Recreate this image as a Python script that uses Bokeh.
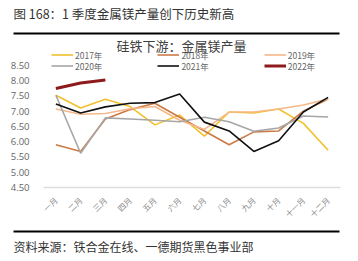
import math
from bokeh.plotting import figure
from bokeh.layouts import column
from bokeh.models import Range1d, Label, Legend, LegendItem, FixedTicker, CustomJSTickFormatter, NumeralTickFormatter, BoxAnnotation
from bokeh.embed import file_html
from bokeh.resources import INLINE

months = ["一月", "二月", "三月", "四月", "五月", "六月", "七月", "八月", "九月", "十月", "十一月", "十二月"]
y2017 = [7.52, 7.10, 7.39, 7.15, 6.55, 6.87, 6.18, 6.97, 6.94, 7.07, 6.60, 5.72]
y2018 = [5.90, 5.68, 6.74, 7.05, 7.26, 6.80, 6.35, 5.90, 6.32, 6.35, 7.00, 7.40]
y2019 = [7.07, 6.90, 6.92, 7.08, 7.15, 6.70, 6.40, 6.97, 6.97, 7.07, 7.20, 7.40]
y2020 = [7.52, 5.62, 6.78, 6.74, 6.70, 6.65, 6.80, 6.65, 6.34, 6.45, 6.84, 6.81]
y2021 = [7.23, 6.94, 7.14, 7.26, 7.28, 7.56, 6.64, 6.35, 5.68, 6.03, 6.97, 7.45]
y2022 = [7.74, 7.92, 8.02]
yticks = [4.5, 5.0, 5.5, 6.0, 6.5, 7.0, 7.5, 8.0, 8.5]

header = "图 168：1 季度金属镁产量创下历史新高"
chart_title = "硅铁下游：金属镁产量"
source = "资料来源：铁合金在线、一德期货黑色事业部"

W, H = 358, 261
HEAD_H = 36          # header strip height
FOOT_H = 35          # footer strip height
MAIN_H = H - HEAD_H - FOOT_H
FL = 43              # frame left
FB = 188             # frame bottom (window px)
PX_PER_UNIT = 30.75
frame_h = FB - HEAD_H


def strip(height):
    f = figure(width=W, height=height, output_backend="svg", toolbar_location=None,
               x_range=Range1d(0, W), y_range=Range1d(0, height),
               x_axis_location=None, y_axis_location=None,
               min_border=0, min_border_left=0, min_border_right=0, min_border_top=0, min_border_bottom=0)
    f.grid.visible = False
    f.outline_line_color = None
    f.background_fill_color = "white"
    f.border_fill_color = "white"
    f.frame_align = False
    return f


# ---- header
ph = strip(HEAD_H)
ph.add_layout(Label(x=13, y=HEAD_H - 13, x_units="screen", y_units="screen", text=header,
                    text_font="Noto Sans CJK SC", text_font_size="12.5px", text_color="#333333",
                    text_baseline="middle"))
ph.add_layout(BoxAnnotation(left=13, right=339, bottom=HEAD_H - 34, top=HEAD_H - 32,
                            left_units="screen", right_units="screen", top_units="screen", bottom_units="screen",
                            fill_color="black", fill_alpha=1, line_color=None))

# ---- main chart
p = figure(width=W, height=MAIN_H, output_backend="svg", toolbar_location=None,
           x_range=Range1d(0.5, 12.5), y_range=Range1d(4.5, 4.5 + frame_h / PX_PER_UNIT),
           min_border_left=FL, min_border_right=18, min_border_top=0,
           min_border_bottom=HEAD_H + MAIN_H - FB)
p.frame_align = False
p.outline_line_color = None
p.xgrid.visible = False
p.ygrid.visible = False
p.background_fill_color = "white"
p.border_fill_color = "white"


def sx(x):
    return x - FL


def sy(y):
    return FB - y


xs = list(range(1, 13))
series = [
    ("2017年", y2017, "#F2C12E", 1.6),
    ("2018年", y2018, "#CC7A45", 1.6),
    ("2019年", y2019, "#F5B889", 1.6),
    ("2020年", y2020, "#A6A6A6", 1.6),
    ("2021年", y2021, "#111111", 1.6),
    ("2022年", y2022, "#8E1B1B", 3.0),
]
renderers = {}
for name, ys, col, lw in series:
    renderers[name] = p.line(xs[:len(ys)], ys, line_color=col, line_width=lw)

p.xaxis.ticker = FixedTicker(ticks=xs)
p.xaxis.formatter = CustomJSTickFormatter(args=dict(labels=months), code="return labels[Math.round(tick)-1];")
p.xaxis.major_label_orientation = math.pi / 4
p.xaxis.axis_line_color = "#DDDDDD"
p.xaxis.axis_line_width = 1.5
p.xaxis.major_tick_line_color = None
p.xaxis.minor_tick_line_color = None
p.xaxis.major_label_text_color = "#8C8C8C"
p.xaxis.major_label_text_font = "Noto Sans CJK SC"
p.xaxis.major_label_text_font_size = "8px"

p.yaxis.ticker = FixedTicker(ticks=yticks)
p.yaxis.formatter = NumeralTickFormatter(format="0.00")
p.yaxis.axis_line_color = None
p.yaxis.major_tick_line_color = None
p.yaxis.minor_tick_line_color = None
p.yaxis.major_label_text_color = "#666666"
p.yaxis.major_label_text_font = "Open Sans"
p.yaxis.major_label_text_font_size = "9.5px"
p.yaxis.major_label_standoff = 8

for row, names in [(0, ["2017年", "2018年", "2019年"]), (1, ["2020年", "2021年", "2022年"])]:
    leg = Legend(items=[LegendItem(label=n, renderers=[renderers[n]]) for n in names],
                 orientation="horizontal", location=(8, sy(61.5 + row * 11)),
                 background_fill_alpha=0, border_line_color=None,
                 label_text_font="Noto Sans CJK SC", label_text_font_size="8.5px",
                 label_text_color="#666666", glyph_width=22, glyph_height=7,
                 label_height=7, label_standoff=2, spacing=55, padding=0, margin=0)
    p.add_layout(leg, "center")

p.add_layout(Label(x=sx(181), y=sy(46), x_units="screen", y_units="screen", text=chart_title,
                   text_font="Noto Sans CJK SC", text_font_size="13px", text_color="#404040",
                   text_baseline="middle", text_align="center"))

# ---- footer
pf = strip(FOOT_H)
y_off = HEAD_H + MAIN_H
pf.add_layout(BoxAnnotation(left=13, right=339, bottom=FOOT_H - (232 - y_off), top=FOOT_H - (230 - y_off),
                            left_units="screen", right_units="screen", top_units="screen", bottom_units="screen",
                            fill_color="black", fill_alpha=1, line_color=None))
pf.add_layout(Label(x=13, y=FOOT_H - (246 - y_off), x_units="screen", y_units="screen", text=source,
                    text_font="Noto Sans CJK SC", text_font_size="12px", text_color="#333333",
                    text_baseline="middle"))

layout = column(ph, p, pf, spacing=0)
open("out.html", "w").write(file_html(layout, INLINE))
